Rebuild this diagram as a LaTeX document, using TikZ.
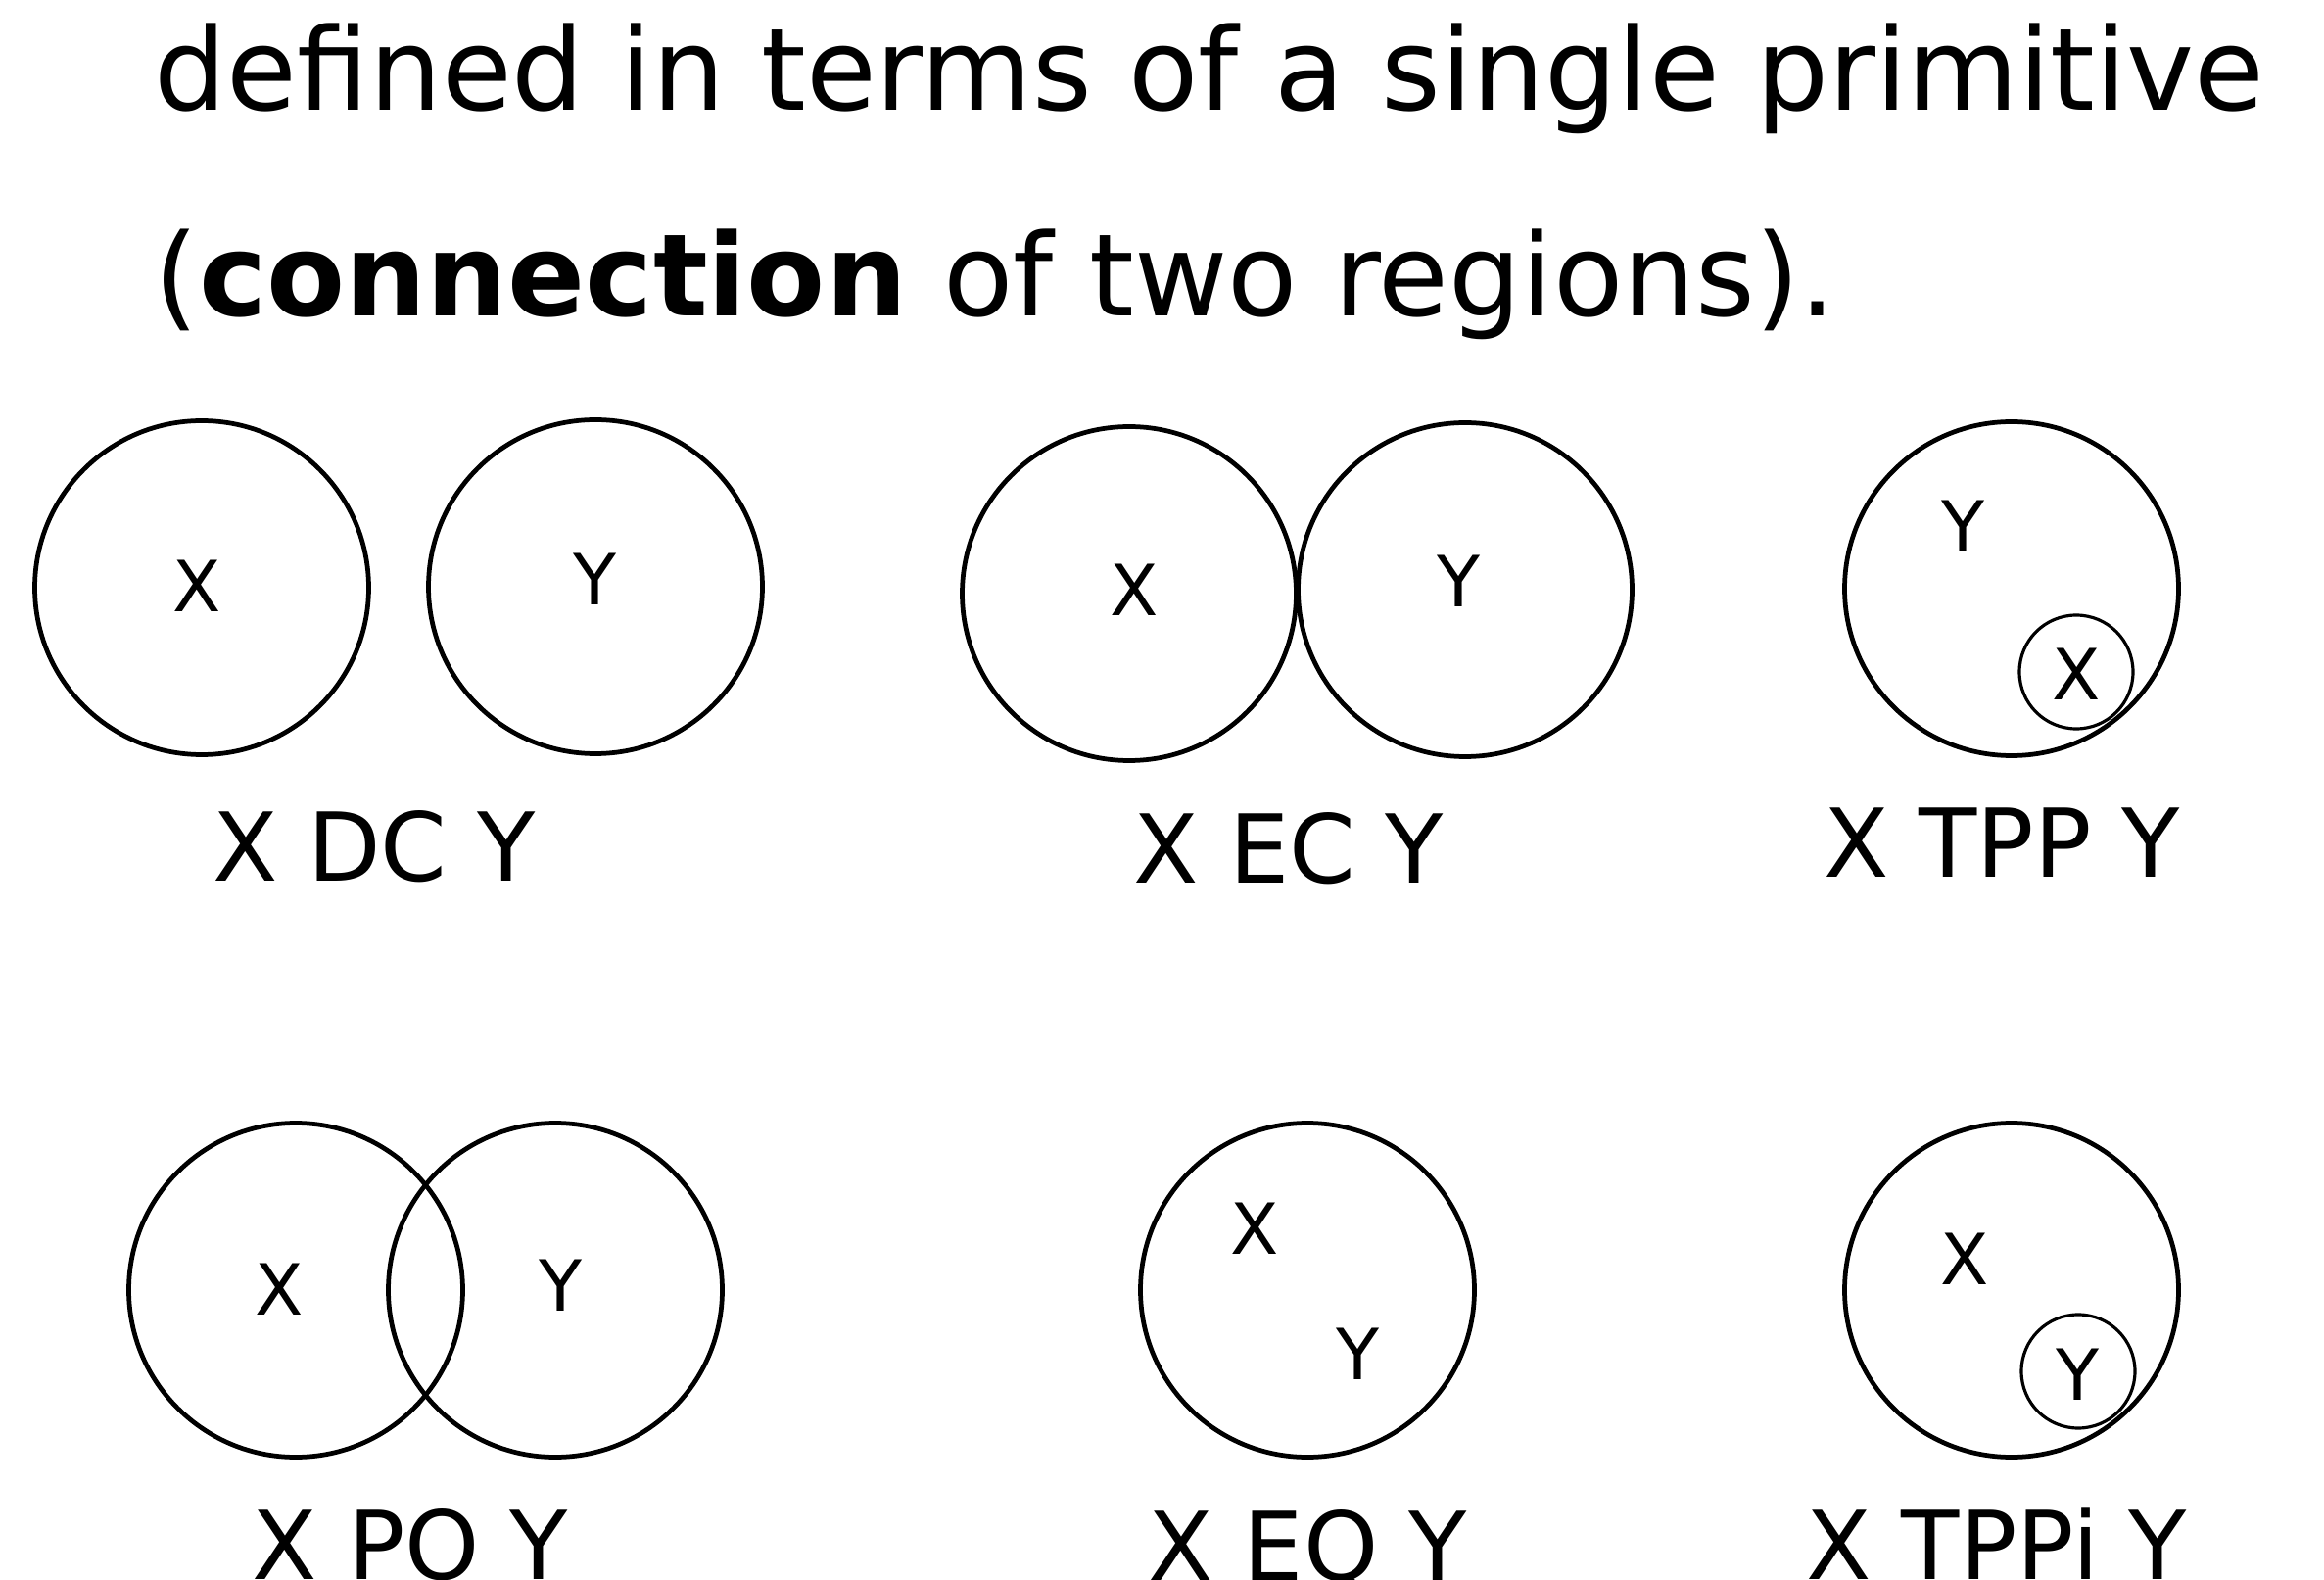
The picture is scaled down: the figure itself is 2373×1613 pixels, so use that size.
\documentclass[tikz,border=0pt]{standalone}
\usepackage{fontspec}
\setmainfont{DejaVu Sans}
\tikzset{
  region/.style={circle, draw, line width=1.35pt, minimum size=34.1mm, inner sep=0pt},
  subregion/.style={circle, draw, line width=0.9pt, minimum size=11.6mm, inner sep=0pt},
  tag/.style={inner sep=0pt, font=\fontsize{20.5}{24}\selectfont},
  relname/.style={anchor=base, inner sep=0pt, font=\fontsize{27.6}{33}\selectfont},
  heading/.style={anchor=base west, inner sep=0pt, font=\fontsize{33.2}{40}\selectfont}
}

\begin{document}
\begin{tikzpicture}[x=0.1mm, y=-0.1mm]
\useasboundingbox (0,0) rectangle (2373,1613);
\clip (0,0) rectangle (2373,1613);

\node[heading] (line1) at (157,113) {defined in terms of a single primitive};
\node[heading] (line2) at (157,323) {(\textbf{connection} of two regions).};

% X DC Y
\node[region] (dcx) at (206,600) {};
\node[region] (dcy) at (608,599) {};
\node[tag] (dcxl) at (201,598) {X};
\node[tag] (dcyl) at (607,591) {Y};
\node[relname] (dc) at (382,900) {X DC Y};

% X EC Y
\node[region] (ecx) at (1153,606) {};
\node[region] (ecy) at (1496,602) {};
\node[tag] (ecxl) at (1158,602) {X};
\node[tag] (ecyl) at (1489,593) {Y};
\node[relname] (ec) at (1316,902) {X EC Y};

% X TPP Y
\node[region] (tppy) at (2054,601) {};
\node[subregion] (tppx) at (2120,686) {};
\node[tag] (tppyl) at (2004,537) {Y};
\node[tag] (tppxl) at (2120,688) {X};
\node[relname] (tpp) at (2044,896) {X TPP Y};

% X PO Y
\node[region] (pox) at (302,1317) {};
\node[region] (poy) at (567,1317) {};
\node[tag] (poxl) at (285,1316) {X};
\node[tag] (poyl) at (572,1312) {Y};
\node[relname] (po) at (419,1612) {X PO Y};

% X EQ Y
\node[region] (eqxy) at (1335,1317) {};
\node[tag] (eqxl) at (1281,1254) {X};
\node[tag] (eqyl) at (1386,1382) {Y};
\node[relname] (eq) at (1335,1613) {X EQ Y};

% X TPPi Y
\node[region] (tppix) at (2054,1317) {};
\node[subregion] (tppiy) at (2122,1400) {};
\node[tag] (tppixl) at (2006,1285) {X};
\node[tag] (tppiyl) at (2121,1403) {Y};
\node[relname] (tppi) at (2039,1612) {X TPPi Y};

\end{tikzpicture}
\end{document}
